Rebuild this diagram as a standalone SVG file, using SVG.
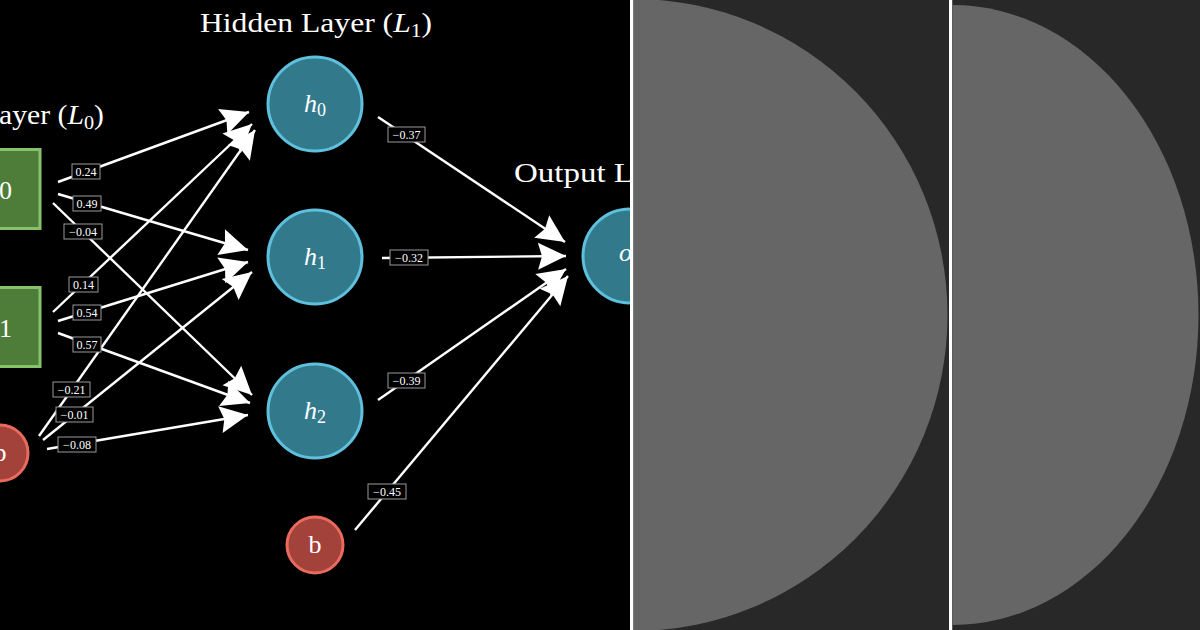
<svg xmlns="http://www.w3.org/2000/svg" width="1200" height="630" viewBox="0 0 1200 630">
  <style>
    .title { font-family: "Liberation Serif", "DejaVu Serif", serif; font-size: 28px; fill: #ffffff; }
    .it { font-style: italic; }
    .sub { font-size: 19px; }
    .nlabel { font-family: "Liberation Serif", "DejaVu Serif", serif; font-size: 26px; fill: #ffffff; }
    .hidden { fill: #327a8b; stroke: #5ec0dd; stroke-width: 3; }
    .input { fill: #4e7d3a; stroke: #84c36c; stroke-width: 3; }
    .bias { fill: #a2423a; stroke: #ea6b5d; stroke-width: 3; }
    .edge { stroke: #ffffff; stroke-width: 2.4; fill: none; marker-end: url(#ah); }
    .wbox { fill: #000000; stroke: #9a9a9a; stroke-width: 1; }
    .wtxt { font-family: "Liberation Serif", "DejaVu Serif", serif; font-size: 12px; fill: #ffffff; text-anchor: middle; }
    .panel { fill: #282828; }
    .blob { fill: #666666; }
  </style>
  <defs>
    <marker id="ah" viewBox="-30 -15 32 30" refX="0" refY="0" markerWidth="32" markerHeight="30" markerUnits="userSpaceOnUse" orient="auto">
      <path d="M0,0 L-28,-13.5 L-24,0 L-28,13.5 Z" fill="#ffffff"/>
    </marker>
  </defs>

  <rect x="0" y="0" width="1200" height="630" fill="#000000"/>

  <!-- titles -->
  <text class="title" x="200" y="32" textLength="232" lengthAdjust="spacingAndGlyphs">Hidden Layer (<tspan class="it">L</tspan><tspan class="sub" dy="5">1</tspan><tspan dy="-5">)</tspan></text>
  <text class="title" x="-1" y="124" textLength="105" lengthAdjust="spacingAndGlyphs">ayer (<tspan class="it">L</tspan><tspan class="sub" dy="5">0</tspan><tspan dy="-5">)</tspan></text>
  <text class="title" x="514" y="182" textLength="120" lengthAdjust="spacingAndGlyphs">Output L</text>

  <!-- connectors -->
  <g id="connectors">
    <g id="e-x0-h0"><line class="edge" x1="58" y1="182" x2="249" y2="112"/><rect class="wbox" x="72" y="164" width="28" height="15"/><text class="wtxt" x="86" y="175.5">0.24</text></g>
    <g id="e-x1-h0"><line class="edge" x1="53" y1="312" x2="252" y2="124"/><rect class="wbox" x="69" y="277" width="29" height="15"/><text class="wtxt" x="83.5" y="288.5">0.14</text></g>
    <g id="e-b0-h0"><line class="edge" x1="39" y1="436" x2="255" y2="130"/><rect class="wbox" x="53" y="382" width="37" height="15"/><text class="wtxt" x="71.5" y="393.5">−0.21</text></g>

    <g id="e-x0-h1"><line class="edge" x1="58" y1="194" x2="248" y2="250"/><rect class="wbox" x="73" y="196" width="28" height="15"/><text class="wtxt" x="87" y="207.5">0.49</text></g>
    <g id="e-x1-h1"><line class="edge" x1="58" y1="321" x2="248" y2="262"/><rect class="wbox" x="73" y="305" width="28" height="15"/><text class="wtxt" x="87" y="316.5">0.54</text></g>
    <g id="e-b0-h1"><line class="edge" x1="43" y1="440" x2="252" y2="272"/><rect class="wbox" x="56" y="407" width="37" height="15"/><text class="wtxt" x="74.5" y="418.5">−0.01</text></g>

    <g id="e-x0-h2"><line class="edge" x1="53" y1="203" x2="252" y2="395"/><rect class="wbox" x="64" y="224" width="38" height="15"/><text class="wtxt" x="83" y="235.5">−0.04</text></g>
    <g id="e-x1-h2"><line class="edge" x1="58" y1="333" x2="250" y2="403"/><rect class="wbox" x="73" y="337" width="28" height="15"/><text class="wtxt" x="87" y="348.5">0.57</text></g>
    <g id="e-b0-h2"><line class="edge" x1="47" y1="449" x2="248" y2="415"/><rect class="wbox" x="58" y="437" width="38" height="15"/><text class="wtxt" x="77" y="448.5">−0.08</text></g>

    <g id="e-h0-o"><line class="edge" x1="378" y1="117" x2="565" y2="242"/><rect class="wbox" x="388" y="127" width="37" height="15"/><text class="wtxt" x="406.5" y="138.5">−0.37</text></g>
    <g id="e-h1-o"><line class="edge" x1="382" y1="258" x2="566" y2="256"/><rect class="wbox" x="390" y="250" width="38" height="15"/><text class="wtxt" x="409" y="261.5">−0.32</text></g>
    <g id="e-h2-o"><line class="edge" x1="378" y1="400" x2="566" y2="269"/><rect class="wbox" x="388" y="373" width="37" height="15"/><text class="wtxt" x="406.5" y="384.5">−0.39</text></g>
    <g id="e-b1-o"><line class="edge" x1="355" y1="530" x2="568" y2="276"/><rect class="wbox" x="368" y="484" width="38" height="15"/><text class="wtxt" x="387" y="495.5">−0.45</text></g>
  </g>

  <!-- input layer -->
  <g id="node-x0">
    <rect class="input" x="-40" y="149.5" width="80" height="79"/>
    <text class="nlabel" x="-1" y="199" font-size="18">0</text>
  </g>
  <g id="node-x1">
    <rect class="input" x="-40" y="287.5" width="80" height="79"/>
    <text class="nlabel" x="-1" y="337" font-size="18">1</text>
  </g>
  <g id="node-b0">
    <circle class="bias" cx="0" cy="453" r="28"/>
    <text class="nlabel" x="0" y="461" font-size="22" text-anchor="middle">b</text>
  </g>

  <!-- hidden layer -->
  <g id="node-h0">
    <circle class="hidden" cx="315" cy="104" r="47"/>
    <text class="nlabel" x="315" y="112" text-anchor="middle"><tspan class="it">h</tspan><tspan font-size="18" dy="4">0</tspan></text>
  </g>
  <g id="node-h1">
    <circle class="hidden" cx="315" cy="257" r="47"/>
    <text class="nlabel" x="315" y="265" text-anchor="middle"><tspan class="it">h</tspan><tspan font-size="18" dy="4">1</tspan></text>
  </g>
  <g id="node-h2">
    <circle class="hidden" cx="315" cy="411" r="47"/>
    <text class="nlabel" x="315" y="419" text-anchor="middle"><tspan class="it">h</tspan><tspan font-size="18" dy="4">2</tspan></text>
  </g>
  <g id="node-b1">
    <circle class="bias" cx="315" cy="545" r="28"/>
    <text class="nlabel" x="315" y="553" font-size="22" text-anchor="middle">b</text>
  </g>

  <!-- output layer -->
  <g id="node-o">
    <circle class="hidden" cx="630" cy="256" r="47"/>
    <text class="nlabel it" x="619" y="261">o</text>
  </g>

  <!-- side panels -->
  <rect x="630" y="0" width="4" height="630" fill="#ffffff"/>
  <rect class="panel" x="633.5" y="0" width="315.5" height="630"/>
  <path class="blob" d="M633.5,-1 A314,316 0 0 1 633.5,631 Z"/>
  <rect x="949" y="0" width="3.5" height="630" fill="#ffffff"/>
  <rect class="panel" x="952.5" y="0" width="247.5" height="630"/>
  <path class="blob" d="M952.5,5 A246,310 0 0 1 952.5,625 Z"/>
</svg>
